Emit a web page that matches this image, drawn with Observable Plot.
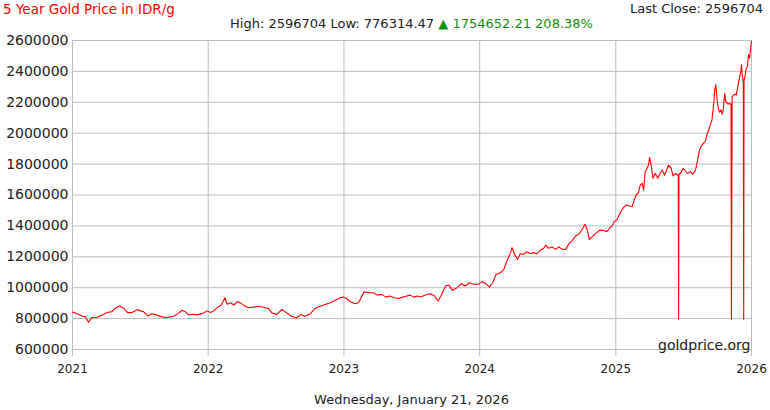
<!DOCTYPE html>
<html><head><meta charset="utf-8">
<script src="https://cdn.jsdelivr.net/npm/d3@7"></script>
<script src="https://cdn.jsdelivr.net/npm/@observablehq/plot@0.6"></script>
<style>
html,body{margin:0;padding:0;background:#fff;}
#wrap{position:relative;width:770px;height:410px;font-family:"DejaVu Sans",Verdana,sans-serif;color:#222;overflow:hidden;}
.t{position:absolute;white-space:nowrap;line-height:16px;}
#chart{position:absolute;left:0;top:0;}
</style></head><body>
<div id="wrap">
<div id="chart"></div>
<div class="t" id="title" style="left:3px;top:1px;font-size:13.5px;color:#ff0000"></div>
<div class="t" id="last" style="right:7px;top:1px;font-size:13px"></div>
<div class="t" id="stats" style="left:230px;top:16px;font-size:13px"></div>
<div class="t" id="dateline" style="left:72px;width:679px;text-align:center;top:392px;font-size:13px"></div>
</div>
<script>
const titleText = "5 Year Gold Price in IDR/g";
const sourceText = "goldprice.org";
const yTicks = [600000, 800000, 1000000, 1200000, 1400000, 1600000, 1800000, 2000000, 2200000, 2400000, 2600000];
const xTickDates = ["2021-01-21", "2022-01-21", "2023-01-21", "2024-01-21", "2025-01-21", "2026-01-21"];

const dates = [
"2021-01-21","2021-02-02","2021-02-16","2021-02-25","2021-03-05","2021-03-14","2021-03-28","2021-04-11","2021-04-24","2021-05-07",
"2021-05-16","2021-05-28","2021-06-08","2021-06-18","2021-06-30","2021-07-14","2021-07-23","2021-07-31","2021-08-11","2021-08-23",
"2021-09-03","2021-09-16","2021-09-28","2021-10-11","2021-10-22","2021-10-31","2021-11-12","2021-11-20","2021-11-29","2021-12-11",
"2021-12-22","2022-01-04","2022-01-18","2022-01-27","2022-02-05","2022-02-14","2022-02-25","2022-03-07","2022-03-13","2022-03-22",
"2022-03-31","2022-04-09","2022-04-20","2022-04-29","2022-05-10","2022-05-23","2022-06-05","2022-06-18","2022-07-02","2022-07-11",
"2022-07-24","2022-08-07","2022-08-20","2022-09-02","2022-09-16","2022-09-27","2022-10-08","2022-10-22","2022-11-04","2022-11-18",
"2022-12-01","2022-12-15","2022-12-28","2023-01-11","2023-01-20","2023-01-28","2023-02-08","2023-02-20","2023-03-01","2023-03-07",
"2023-03-16","2023-03-28","2023-04-10","2023-04-21","2023-05-02","2023-05-14","2023-05-25","2023-06-05","2023-06-16","2023-06-28",
"2023-07-09","2023-07-18","2023-07-27","2023-08-07","2023-08-15","2023-08-28","2023-09-10","2023-09-22","2023-10-01","2023-10-10",
"2023-10-21","2023-10-30","2023-11-09","2023-11-21","2023-12-03","2023-12-13","2023-12-24","2024-01-05","2024-01-18","2024-01-28",
"2024-02-07","2024-02-16","2024-02-25","2024-03-05","2024-03-17","2024-03-26","2024-04-04","2024-04-13","2024-04-17","2024-04-23",
"2024-05-02","2024-05-09","2024-05-18","2024-05-27","2024-06-05","2024-06-14","2024-06-23","2024-07-02","2024-07-11","2024-07-17",
"2024-07-24","2024-08-03","2024-08-12","2024-08-21","2024-08-30","2024-09-08","2024-09-17","2024-09-26","2024-10-05","2024-10-13",
"2024-10-23","2024-10-30","2024-11-05","2024-11-11","2024-11-25","2024-12-10","2024-12-19","2024-12-28","2025-01-04","2025-01-11",
"2025-01-17","2025-01-24","2025-01-28","2025-02-04","2025-02-11","2025-02-18","2025-02-27","2025-03-06","2025-03-10","2025-03-17",
"2025-03-23","2025-03-28","2025-04-02","2025-04-06","2025-04-10","2025-04-15","2025-04-19","2025-04-22","2025-04-26","2025-05-01",
"2025-05-07","2025-05-14","2025-05-19","2025-05-26","2025-06-01","2025-06-06","2025-06-12","2025-06-19","2025-06-24","2025-06-30",
"2025-07-05","2025-07-08","2025-07-09","2025-07-10","2025-07-14","2025-07-21","2025-07-27","2025-08-02","2025-08-09","2025-08-16",
"2025-08-23","2025-08-29","2025-09-03","2025-09-10","2025-09-14","2025-09-19","2025-09-23","2025-09-28","2025-10-02","2025-10-07",
"2025-10-08","2025-10-12","2025-10-14","2025-10-17","2025-10-19","2025-10-21","2025-10-24","2025-10-27","2025-10-31","2025-11-03",
"2025-11-06","2025-11-10","2025-11-13","2025-11-19","2025-11-22","2025-11-26","2025-11-27","2025-11-28","2025-11-30","2025-12-03",
"2025-12-07","2025-12-11","2025-12-16","2025-12-20","2025-12-23","2025-12-25","2025-12-27","2025-12-30","2025-12-31","2026-01-01",
"2026-01-03","2026-01-06","2026-01-10","2026-01-13","2026-01-16","2026-01-18","2026-01-21"
];

const prices = [
842051.79,832000,817000,811000,776314.47,806000,808000,824000,839000,845000,
867000,882000,867000,839000,839000,858000,850000,845000,817000,832000,
824000,813000,807000,811000,817000,832000,854000,845000,824000,828000,
824000,832000,850000,839000,850000,871000,888000,935000,893000,903000,
888000,910000,897000,882000,870000,874000,880000,874000,865000,837000,
826000,859000,837000,815000,804000,826000,815000,830000,865000,880000,
891000,902000,917000,935000,939000,930000,909000,896000,902000,930000,
974000,967000,967000,952000,957000,939000,946000,935000,930000,939000,
946000,952000,939000,946000,940000,953000,961000,946000,914000,953000,
1011000,1017000,983000,1000000,1026000,1011000,1032000,1022000,1022000,1039000,
1026000,1004000,1032000,1086000,1097000,1119000,1177000,1227000,1259000,1220000,
1183000,1220000,1216000,1233000,1220000,1227000,1220000,1242000,1255000,1276000,
1255000,1263000,1248000,1263000,1248000,1248000,1285000,1306000,1334000,1345000,
1378000,1410000,1378000,1313000,1345000,1374000,1370000,1363000,1385000,1400000,
1428000,1439000,1460000,1493000,1520000,1536000,1529000,1525000,1557000,1600000,
1615000,1665000,1675000,1632000,1751000,1772000,1794000,1843000,1794000,1708000,
1740000,1708000,1736000,1761000,1729000,1757000,1794000,1772000,1723000,1740000,
1729000,1732000,795000,1738000,1740000,1772000,1757000,1740000,1751000,1736000,
1757000,1826000,1890000,1925000,1936000,1947000,1990000,2022000,2054000,2087000,
2119000,2205000,2281000,2313000,2259000,2205000,2158000,2136000,2151000,2123000,
2151000,2259000,2205000,2188000,2195000,2184000,2190000,795000,2238000,2244000,
2253000,2248000,2313000,2361000,2399000,2443000,2378000,2335000,795000,2345000,
2360000,2410000,2432000,2507000,2486000,2540000,2596704
];

const parse = d3.utcParse("%Y-%m-%d");
const data = dates.map((d, i) => ({date: parse(d), price: prices[i]}));
const xTicks = xTickDates.map(parse);

const first = prices[0], last = prices[prices.length - 1];
const high = d3.max(prices), low = d3.min(prices);
const change = last - first;
const pct = change / first * 100;

document.getElementById("title").textContent = titleText;
document.getElementById("last").textContent = "Last Close: " + last;
document.getElementById("stats").innerHTML =
  "High: " + high + " Low: " + low + ' <span style="color:#129012">' +
  (change >= 0 ? "\u25B2 " : "\u25BC ") + change.toFixed(2) + " " + pct.toFixed(2) + "%</span>";
document.getElementById("dateline").textContent = d3.utcFormat("%A, %B %-d, %Y")(parse(dates[dates.length - 1]));

const chart = Plot.plot({
  width: 770,
  height: 410,
  marginLeft: 72,
  marginRight: 19,
  marginTop: 40,
  marginBottom: 61,
  style: {fontFamily: "DejaVu Sans, Verdana, sans-serif", background: "transparent", color: "#222"},
  x: {type: "utc", domain: [parse(dates[0]), parse(dates[dates.length - 1])], label: null},
  y: {domain: [600000, 2600000], label: null},
  marks: [
    Plot.gridY({ticks: yTicks, stroke: "#bdbdbd", strokeOpacity: 1, strokeWidth: 1}),
    Plot.ruleX(xTicks, {stroke: "#bdbdbd", strokeWidth: 1, insetBottom: -7}),
    Plot.axisY({ticks: yTicks, tickSize: 0, tickPadding: 4, fontSize: 14, tickFormat: d3.format("d"), label: null}),
    Plot.axisX({ticks: xTicks, tickSize: 0, tickPadding: 15, fontSize: 12, tickFormat: d3.utcFormat("%Y"), label: null}),
    Plot.line(data, {x: "date", y: "price", stroke: "#ff0000", strokeWidth: 1.1}),
    Plot.text([sourceText], {frameAnchor: "bottom-right", dx: -1, dy: 0, fontSize: 14, fill: "#222"})
  ]
});
document.getElementById("chart").appendChild(chart);
</script>
</body></html>
